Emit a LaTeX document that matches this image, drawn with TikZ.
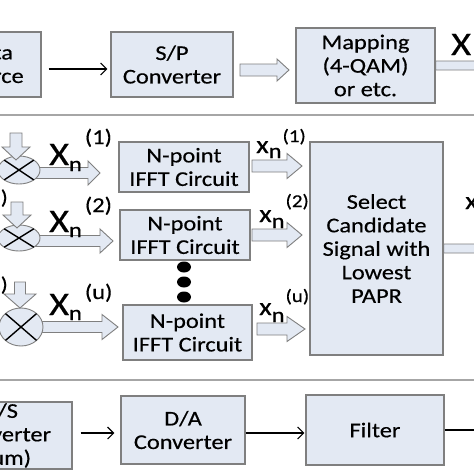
\documentclass[tikz,border=0pt]{standalone}
\usepackage{fontspec}
\setmainfont{Carlito}[FakeStretch=1.16,FakeBold=0.4]
\usetikzlibrary{arrows.meta,calc,shapes.geometric}
\definecolor{boxfill}{HTML}{E3E9F3}
\definecolor{boxline}{HTML}{7F7F7F}
\definecolor{sepline}{HTML}{A6A6A6}
% hollow block arrow pointing right: start, end, shaft half-width, head half-width, head length
\newcommand\hollowR[5]{\draw[harrow] let \p1=(#1),\p2=(#2) in
  (\x1,\y1+#3pt) -- (\x2-#5pt,\y1+#3pt) -- (\x2-#5pt,\y1+#4pt) -- (\x2,\y1)
  -- (\x2-#5pt,\y1-#4pt) -- (\x2-#5pt,\y1-#3pt) -- (\x1,\y1-#3pt) -- cycle;}
% hollow block arrow pointing down
\newcommand\hollowD[5]{\draw[harrow] let \p1=(#1),\p2=(#2) in
  (\x1-#3pt,\y1) -- (\x1-#3pt,\y2+#5pt) -- (\x1-#4pt,\y2+#5pt) -- (\x1,\y2)
  -- (\x1+#4pt,\y2+#5pt) -- (\x1+#3pt,\y2+#5pt) -- (\x1+#3pt,\y1) -- cycle;}
\newcommand\capX[3]{{\fontsize{33}{33}\selectfont X}\raisebox{-#1pt}{\fontsize{21}{21}\selectfont n}\hspace{3pt}\raisebox{#2pt}{\fontsize{21}{21}\selectfont #3}}
\newcommand\lowx[3]{{\fontsize{25}{25}\selectfont x}\raisebox{-#1pt}{\fontsize{21}{21}\selectfont n}\hspace{1pt}\raisebox{#2pt}{\fontsize{18}{18}\selectfont #3}}
\begin{document}
\begin{tikzpicture}[x=1pt,y=-1pt,
  box/.style={draw=boxline, fill=boxfill, line width=1.1pt, inner sep=0pt, align=center,
              font=\fontsize{21}{23.5}\selectfont},
  harrow/.style={draw=boxline, fill=boxfill, line width=0.9pt, line join=miter},
  mult/.style={ellipse, draw=boxline, fill=boxfill, line width=0.9pt, inner sep=0pt},
  cross/.style={line width=1.4pt, black},
  lab/.style={inner sep=0pt},
  thinarrow/.style={line width=1.2pt, -{Straight Barb[length=6pt,width=12pt]}},
  thinline/.style={line width=1.2pt},
  sepl/.style={draw=sepline, line width=2pt}]
\useasboundingbox (0,0) rectangle (474,474);
\fill[white] (0,0) rectangle (474,474);

% ---------- top section ----------
\node[box, minimum width=102pt, minimum height=65pt] (ds) at (-10,64.5) {Data\\Source};
\node[box, minimum width=122pt, minimum height=65pt] (sp) at (172,64.5) {S/P\\Converter};
\node[box, minimum width=139pt, minimum height=75pt] (map) at (365.5,65.5) {Mapping\\(4-QAM)\\or etc.};
\node[lab, anchor=base west] (Xtop) at (451,55) {\fontsize{33}{33}\selectfont X};
\draw[thinarrow] ($(ds.east)+(7,4.5)$) -- ($(sp.west)+(-3,4.5)$);
\coordinate (a0s) at (240,70);
\coordinate (a0e) at (289,70);
\hollowR{a0s}{a0e}{6}{11}{12}
\coordinate (mo) at (500,65);
\hollowR{map.east}{mo}{4.5}{11}{12}

\draw[sepl] (0,115) -- (474,115);

% ---------- middle section ----------
\node[box, minimum width=130pt, minimum height=50pt] (f1) at (184,167) {N-point\\IFFT Circuit};
\node[box, minimum width=130pt, minimum height=50pt] (f2) at (185,235) {N-point\\IFFT Circuit};
\node[box, minimum width=129pt, minimum height=55pt] (f3) at (187.5,332.5) {N-point\\IFFT Circuit};
\node[box, minimum width=133pt, minimum height=213pt] (sel) at (376.5,248.5) {Select\\Candidate\\Signal with\\Lowest\\PAPR};

% arrows from multipliers to IFFT
\coordinate (r1s) at (35,173);  \coordinate (r1e) at (100,173);
\coordinate (r2s) at (35,241);  \coordinate (r2e) at (113,241);
\coordinate (r3s) at (38,327);  \coordinate (r3e) at (118,327);
\hollowR{r1s}{r1e}{5.5}{12}{12}
\hollowR{r2s}{r2e}{5.5}{12}{13}
\hollowR{r3s}{r3e}{5.5}{12.5}{16}

% multipliers
\node[mult, minimum width=42pt, minimum height=28pt] (m1) at (19,170) {};
\node[mult, minimum width=42pt, minimum height=26pt] (m2) at (19,238) {};
\node[mult, minimum width=44pt, minimum height=38pt] (m3) at (21,327) {};
\foreach \m/\a/\b in {m1/14.8/9.9, m2/14.8/9.2, m3/15.5/13.4}{
  \draw[cross] ($(\m.center)+(-\a,-\b)$) -- ($(\m.center)+(\a,\b)$);
  \draw[cross] ($(\m.center)+(-\a,\b)$) -- ($(\m.center)+(\a,-\b)$);
}
% downward inputs
\coordinate (d1s) at (16,133); \coordinate (d1e) at (16,160);
\coordinate (d2s) at (17,202); \coordinate (d2e) at (17,228);
\coordinate (d3s) at (20,282); \coordinate (d3e) at (20,308);
\hollowD{d1s}{d1e}{6}{14}{13}
\hollowD{d2s}{d2e}{6}{14}{13}
\hollowD{d3s}{d3e}{5.5}{16}{14}
\node[lab, anchor=base east] (p2) at (8,204) {\fontsize{20}{20}\selectfont )};
\node[lab, anchor=base east] (p3) at (8,291) {\fontsize{20}{20}\selectfont )};

% X_n labels
\node[lab, anchor=base west] (X1) at (49,165) {\capX{6}{21}{(1)}};
\node[lab, anchor=base west] (X2) at (49,232) {\capX{5}{20}{(2)}};
\node[lab, anchor=base west] (X3) at (49,315) {\capX{5}{16}{(u)}};

% dots
\fill (184,267) ellipse (7 and 5.5);
\fill (184,282) ellipse (7 and 5.5);
\fill (184,297) ellipse (7 and 5.5);

% arrows IFFT -> select
\coordinate (s1s) at (252,166); \coordinate (s1e) at (302,166);
\coordinate (s2s) at (252,235); \coordinate (s2e) at (302,235);
\coordinate (s3s) at (257,329); \coordinate (s3e) at (305,329);
\hollowR{s1s}{s1e}{6}{12.5}{15}
\hollowR{s2s}{s2e}{6}{12.5}{15}
\hollowR{s3s}{s3e}{6}{12.5}{18}
\node[lab, anchor=base west] (x1) at (256,153) {\lowx{5}{11}{(1)}};
\node[lab, anchor=base west] (x2) at (259,222) {\lowx{6}{15}{(2)}};
\node[lab, anchor=base west] (x3) at (259,315) {\lowx{7}{13}{(u)}};

% output of select
\coordinate (so) at (520,234.5);
\hollowR{sel.east}{so}{4.5}{11}{12}
\node[lab, anchor=base west] (xo) at (465,209) {\fontsize{25}{25}\selectfont x};

\draw[sepl] (0,380) -- (474,380);

% ---------- bottom section ----------
\node[box, minimum width=140pt, minimum height=67pt] (ps) at (2,435.5) {P/S\\Converter\\(Sum)};
\node[box, minimum width=124pt, minimum height=68pt] (da) at (183,430) {D/A\\Converter};
\node[box, minimum width=138pt, minimum height=70pt] (flt) at (375,430) {Filter};
\draw[thinarrow] ($(ps.east)+(8,-2.5)$) -- ($(da.west)+(-6,3)$);
\draw[thinarrow] ($(da.east)+(0,3)$) -- ($(flt.west)+(-1,3)$);
\coordinate (out) at (490,430);
\draw[thinline] (flt.east) -- (out);
\end{tikzpicture}
\end{document}
